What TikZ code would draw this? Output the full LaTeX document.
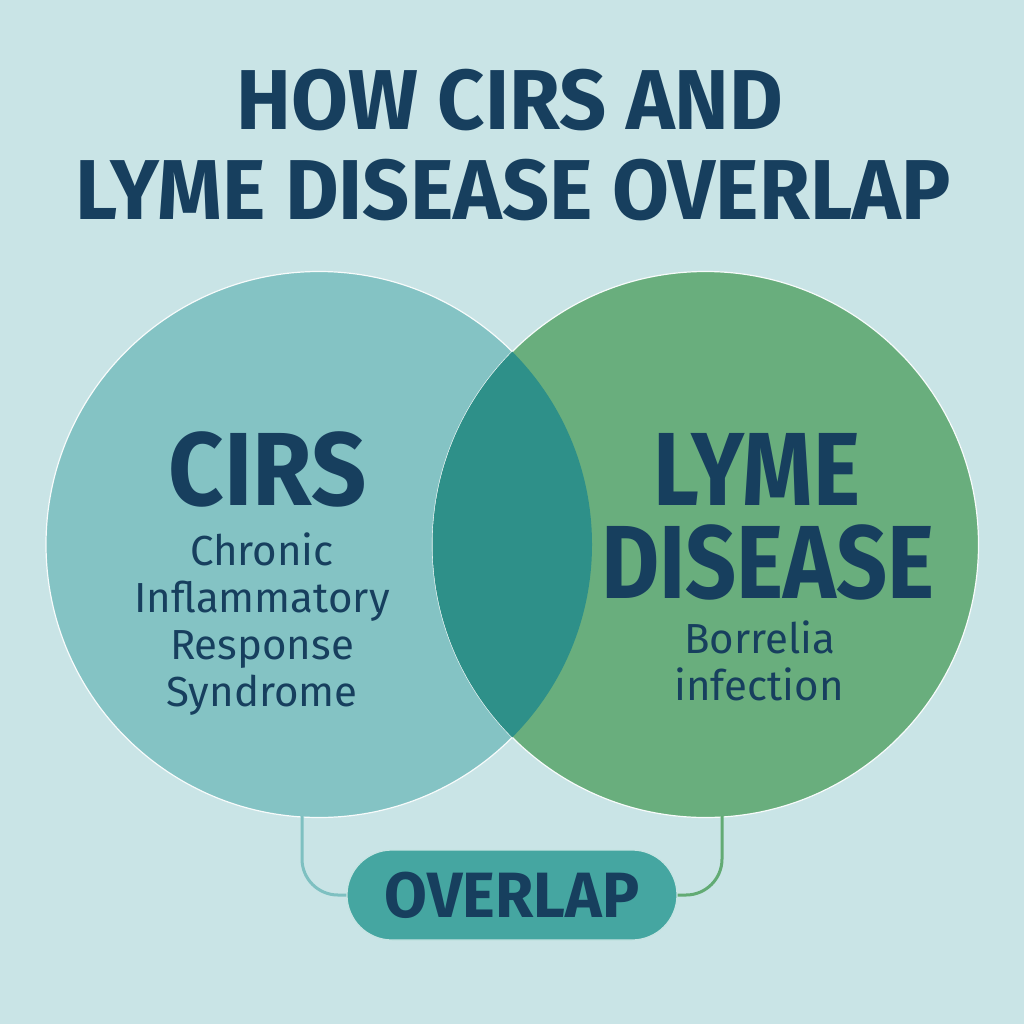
\documentclass[tikz,border=0pt]{standalone}
\usepackage{fontspec}
\setmainfont{Fira Sans}
\newfontfamily\titlefont{Fira Sans}[UprightFont={* Bold}, FakeStretch=0.86]
\newfontfamily\headfont{Fira Sans}[UprightFont={* Bold}, FakeStretch=0.97]
\newfontfamily\cirsfont{Fira Sans}[UprightFont={* Bold}, FakeStretch=0.93]
\newfontfamily\bodyfont{Fira Sans}
\definecolor{bg}{HTML}{C9E4E6}
\definecolor{navy}{HTML}{173F5E}
\definecolor{cirsc}{HTML}{84C3C4}
\definecolor{lymec}{HTML}{69AE7D}
\definecolor{lensc}{HTML}{2E9089}
\definecolor{pillc}{HTML}{45A6A1}
\definecolor{lconnc}{HTML}{7EC0C1}
\definecolor{rconnc}{HTML}{62AB74}
\tikzset{
  titletext/.style={anchor=base, inner sep=0pt, text=navy, text height=60pt, text depth=0pt,
    font=\headfont\fontsize{85}{85}\selectfont},
  bigtext/.style={anchor=base, inner sep=0pt, text=navy,
    font=\titlefont\fontsize{104}{93}\selectfont},
  smalltext/.style={anchor=base, inner sep=0pt, text=navy, text height=31pt, text depth=9pt,
    font=\bodyfont\fontsize{42}{42}\selectfont},
  venn/.style={circle, minimum size=546pt, inner sep=0pt, draw=white!85!bg, line width=1.2pt},
  conn/.style={line width=3pt, rounded corners=36pt},
}
\begin{document}
\begin{tikzpicture}[x=1pt,y=-1pt]
\useasboundingbox (0,0) rectangle (1024,1024);
\fill[bg] (0,0) rectangle (1024,1024);
% title
\node[titletext] (t1) at (510,130) {HOW CIRS AND};
\node[titletext] (t2) at (513,220) {LYME DISEASE OVERLAP};
% circles
\node[venn, fill=cirsc] (L) at (319,544.5) {};
\node[venn, fill=lymec] (R) at (705.5,544.5) {};
\begin{scope}
  \clip (319,544.5) circle (273pt);
  \fill[lensc] (705.5,544.5) circle (273pt);
\end{scope}
% connectors
\coordinate (la) at (302,816);
\coordinate (ra) at (722,816);
\node[rectangle, rounded corners=45pt, minimum width=330pt, minimum height=90pt,
      fill=pillc, draw=white!70!pillc, line width=1.2pt, inner sep=0pt,
      text=navy, font=\headfont\fontsize{64}{64}\selectfont] (pill) at (512,895) {OVERLAP};
\draw[conn, lconnc] (la) |- (pill.west);
\draw[conn, rconnc] (ra) |- (pill.east);
% CIRS side
\node[bigtext, text height=72pt, text depth=0pt, font=\cirsfont\fontsize{104}{104}\selectfont] (cirs) at (268,505) {CIRS};
\node[smalltext] (c1) at (262,565) {Chronic};
\node[smalltext] (c2) at (262,612) {Inflammatory};
\node[smalltext] (c3) at (262,659) {Response};
\node[smalltext] (c4) at (262,706) {Syndrome};
% Lyme side
\node[bigtext, align=center] (lyme) at (768,598) {LYME\hspace*{22pt}\\DISEASE};
\node[smalltext] (b1) at (760,653) {Borrelia};
\node[smalltext] (b2) at (759,700) {infection};
\end{tikzpicture}
\end{document}
